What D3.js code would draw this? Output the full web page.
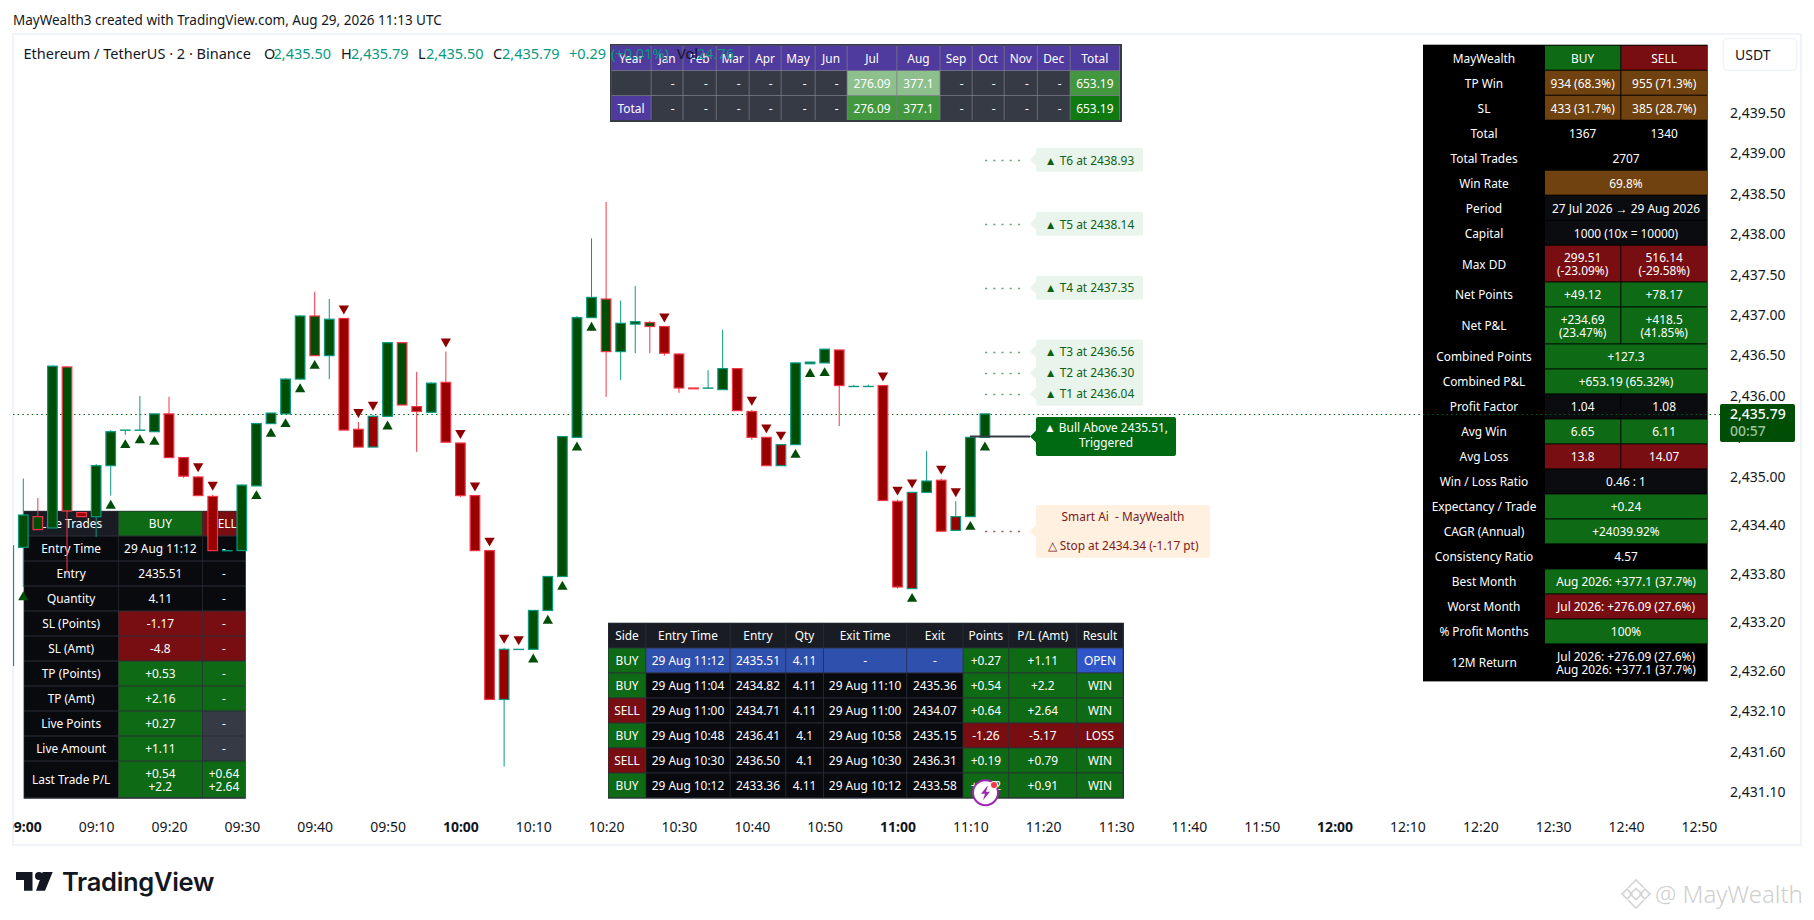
<!DOCTYPE html>
<html>
<head>
<meta charset="utf-8">
<title>ETHUSDT 2m</title>
<script src="https://cdn.jsdelivr.net/npm/d3@7/dist/d3.min.js"></script>
<style>
    html, body { margin: 0; padding: 0; background: #fff; }
    svg { display: block; font-family: "Noto Sans", sans-serif; }
    svg text { white-space: pre; }
    .tick text { fill: #131722; }
</style>
</head>
<body>
<div id="chart"></div>
<script>
// 2 minute bars, first one is 08:58 and sits half outside the pane
const opens = [2432.68, 2434.14, 2434.52, 2434.38, 2436.37, 2434.57, 2434.52, 2435.15, 2435.59, 2435.59, 2435.57, 2435.79, 2435.25, 2435.01, 2434.77, 2434.10, 2434.10,
    2434.90, 2435.67, 2435.79, 2436.22, 2437.00, 2436.51, 2436.97, 2435.60, 2435.38, 2435.76, 2436.67, 2435.88, 2435.81, 2436.18, 2435.43, 2434.78, 2434.10, 2432.26,
    2432.88, 2432.88, 2433.36, 2433.78, 2435.50, 2436.98, 2437.21, 2436.56, 2436.90, 2436.92, 2436.87, 2436.53, 2436.11, 2436.11, 2436.09, 2436.35, 2435.82, 2435.50,
    2435.15, 2435.41, 2436.41, 2436.42, 2436.58, 2436.13, 2436.13, 2436.14, 2434.71, 2433.63, 2434.82, 2434.97, 2434.35, 2434.52, 2435.50];
const highs = [2434.16, 2434.99, 2434.75, 2436.39, 2436.38, 2434.57, 2435.17, 2435.59, 2435.59, 2436.01, 2435.79, 2436.00, 2435.25, 2435.02, 2434.79, 2434.10, 2434.92,
    2435.67, 2435.80, 2436.23, 2437.01, 2437.30, 2437.21, 2436.97, 2435.69, 2435.78, 2436.67, 2436.67, 2436.31, 2436.18, 2436.56, 2435.43, 2434.78, 2434.10, 2432.90,
    2432.88, 2433.36, 2433.78, 2435.51, 2437.00, 2437.96, 2438.41, 2437.19, 2437.37, 2436.94, 2436.87, 2436.54, 2436.11, 2436.33, 2436.83, 2436.35, 2435.84, 2435.50,
    2435.41, 2436.42, 2436.43, 2436.59, 2436.58, 2436.15, 2436.15, 2436.14, 2434.73, 2434.82, 2435.33, 2434.99, 2434.71, 2435.50, 2435.79];
const lows = [2432.50, 2433.65, 2434.36, 2434.38, 2433.80, 2434.52, 2434.27, 2434.78, 2435.53, 2435.59, 2435.57, 2435.25, 2435.00, 2434.78, 2434.10, 2434.10, 2434.10,
    2434.90, 2435.67, 2435.79, 2436.22, 2436.51, 2436.22, 2435.59, 2435.38, 2435.38, 2435.76, 2435.90, 2435.32, 2435.81, 2435.44, 2434.76, 2434.10, 2432.26, 2431.43,
    2432.88, 2432.88, 2433.36, 2433.78, 2435.50, 2436.98, 2436.00, 2436.21, 2436.54, 2436.54, 2436.51, 2436.05, 2436.10, 2436.11, 2436.09, 2435.83, 2435.47, 2435.15,
    2435.15, 2435.41, 2436.41, 2436.42, 2435.64, 2436.13, 2436.13, 2434.72, 2433.63, 2433.63, 2434.82, 2434.34, 2434.35, 2434.52, 2435.50];
const closes = [2434.16, 2434.54, 2434.36, 2436.38, 2434.59, 2434.52, 2435.15, 2435.57, 2435.59, 2435.59, 2435.79, 2435.25, 2435.02, 2434.78, 2434.10, 2434.10, 2434.91,
    2435.67, 2435.80, 2436.22, 2437.00, 2436.51, 2436.96, 2435.59, 2435.38, 2435.76, 2436.67, 2435.90, 2435.82, 2436.17, 2435.44, 2434.78, 2434.10, 2432.26, 2432.88,
    2432.88, 2433.36, 2433.78, 2435.51, 2436.98, 2437.23, 2436.56, 2436.91, 2436.93, 2436.87, 2436.54, 2436.11, 2436.10, 2436.11, 2436.35, 2435.83, 2435.50, 2435.15,
    2435.41, 2436.42, 2436.43, 2436.59, 2436.14, 2436.13, 2436.13, 2434.72, 2433.65, 2434.82, 2434.96, 2434.34, 2434.52, 2435.50, 2435.79];
// fill follows the indicator's side, not the candle direction (B = buy, S = sell)
const sides = 'BBBBBSBBBBBSSSSBBBBBBBBSSSBBSBSSSSSSBBBBBBBBBSSSBBSSSSBBBSBBSSSBSSBB'.split('');
const buyMarks = [1, 7, 8, 9, 10, 17, 18, 19, 20, 21, 26, 36, 37, 38, 39, 40, 54, 55, 56, 62, 66, 67];
const sellMarks = [13, 14, 23, 24, 25, 30, 31, 32, 33, 34, 35, 45, 51, 52, 53, 60, 61, 62, 64, 65];

const priceTicks = [2439.5, 2439, 2438.5, 2438, 2437.5, 2437, 2436.5, 2436, 2435.5, 2435, 2434.4, 2433.8, 2433.2, 2432.6, 2432.1, 2431.6, 2431.1];
const lastPrice = 2435.79;
const entryPrice = 2435.51;
const stopPrice = 2434.34;
const targetNames = ['T6', 'T5', 'T4', 'T3', 'T2', 'T1'];
const targetPrices = [2438.93, 2438.14, 2437.35, 2436.56, 2436.30, 2436.04];

const monthHeaders = ['Year', 'Jan', 'Feb', 'Mar', 'Apr', 'May', 'Jun', 'Jul', 'Aug', 'Sep', 'Oct', 'Nov', 'Dec', 'Total'];
const monthRow = ['', '-', '-', '-', '-', '-', '-', '276.09', '377.1', '-', '-', '-', '-', '653.19'];
const monthTotals = ['Total', '-', '-', '-', '-', '-', '-', '276.09', '377.1', '-', '-', '-', '-', '653.19'];

const liveLabels = ['Live Trades', 'Entry Time', 'Entry', 'Quantity', 'SL (Points)', 'SL (Amt)', 'TP (Points)', 'TP (Amt)', 'Live Points', 'Live Amount', 'Last Trade P/L'];
const liveBuy = ['BUY', '29 Aug 11:12', '2435.51', '4.11', '-1.17', '-4.8', '+0.53', '+2.16', '+0.27', '+1.11', '+0.54\n+2.2'];
const liveSell = ['SELL', '-', '-', '-', '-', '-', '-', '-', '-', '-', '+0.64\n+2.64'];
const liveBuyTones = ['green', 'black', 'black', 'black', 'red', 'red', 'green', 'green', 'green', 'green', 'green'];
const liveSellTones = ['red', 'black', 'black', 'black', 'red', 'red', 'green', 'green', 'grey', 'grey', 'green'];

const tradeHeaders = ['Side', 'Entry Time', 'Entry', 'Qty', 'Exit Time', 'Exit', 'Points', 'P/L (Amt)', 'Result'];
const tradeRows = [
    ['BUY', '29 Aug 11:12', '2435.51', '4.11', '-', '-', '+0.27', '+1.11', 'OPEN'],
    ['BUY', '29 Aug 11:04', '2434.82', '4.11', '29 Aug 11:10', '2435.36', '+0.54', '+2.2', 'WIN'],
    ['SELL', '29 Aug 11:00', '2434.71', '4.11', '29 Aug 11:00', '2434.07', '+0.64', '+2.64', 'WIN'],
    ['BUY', '29 Aug 10:48', '2436.41', '4.1', '29 Aug 10:58', '2435.15', '-1.26', '-5.17', 'LOSS'],
    ['SELL', '29 Aug 10:30', '2436.50', '4.1', '29 Aug 10:30', '2436.31', '+0.19', '+0.79', 'WIN'],
    ['BUY', '29 Aug 10:12', '2433.36', '4.11', '29 Aug 10:12', '2433.58', '+0.22', '+0.91', 'WIN']
];

const statLabels = ['MayWealth', 'TP Win', 'SL', 'Total', 'Total Trades', 'Win Rate', 'Period', 'Capital', 'Max DD', 'Net Points', 'Net P&L', 'Combined Points', 'Combined P&L',
    'Profit Factor', 'Avg Win', 'Avg Loss', 'Win / Loss Ratio', 'Expectancy / Trade', 'CAGR (Annual)', 'Consistency Ratio', 'Best Month', 'Worst Month', '% Profit Months', '12M Return'];
// one entry = merged cell, two = buy and sell
const statValues = [['BUY', 'SELL'], ['934 (68.3%)', '955 (71.3%)'], ['433 (31.7%)', '385 (28.7%)'], ['1367', '1340'], ['2707'], ['69.8%'], ['27 Jul 2026 → 29 Aug 2026'], ['1000 (10x = 10000)'],
    ['299.51\n(-23.09%)', '516.14\n(-29.58%)'], ['+49.12', '+78.17'], ['+234.69\n(23.47%)', '+418.5\n(41.85%)'], ['+127.3'], ['+653.19 (65.32%)'], ['1.04', '1.08'], ['6.65', '6.11'], ['13.8', '14.07'],
    ['0.46 : 1'], ['+0.24'], ['+24039.92%'], ['4.57'], ['Aug 2026: +377.1 (37.7%)'], ['Jul 2026: +276.09 (27.6%)'], ['100%'], ['Jul 2026: +276.09 (27.6%)\nAug 2026: +377.1 (37.7%)']];
const statTones = ['mixed', 'brown', 'brown', 'none', 'none', 'brown', 'ink', 'ink', 'red', 'green', 'green', 'green', 'green', 'ink', 'green', 'red', 'ink', 'green', 'green', 'none', 'green', 'red', 'green', 'none'];

// ---- layout
const Width = 1814, Height = 920;
const Pane = { left: 13, top: 34, right: 1801, bottom: 845 };
const Colors = {
    wickUp: '#089981', wickDown: '#f23645', fillBuy: '#004d06', fillSell: '#990000',
    green: '#0e6a14', red: '#780e11', grey: '#363a45', black: '#090a0e', ink: '#0a0c10', none: '#000000',
    brown: '#70420f', purple: '#4f3a9e', head: '#1a1c24', blue: '#3050ae', open: '#2f55c8'
};
const FontSize = 11.9;

const svg = d3.select('#chart').append('svg').attr('width', Width).attr('height', Height);

const x = d3.scaleTime()
    .domain([new Date(Date.UTC(2026, 7, 29, 9, 0)), new Date(Date.UTC(2026, 7, 29, 12, 50))])
    .range([23.3, 1698.85]);
const y = d3.scaleLinear().domain([2440, 2431]).range([73.3, 801.4]);
const barTime = i => new Date(Date.UTC(2026, 7, 29, 8, 58 + i * 2));
const snap = v => Math.round(v) + 0.5;

svg.append('defs').append('clipPath').attr('id', 'pane')
    .append('rect').attr('x', Pane.left).attr('y', Pane.top)
    .attr('width', Pane.right - Pane.left).attr('height', Pane.bottom - Pane.top);

svg.append('text').attr('x', 13).attr('y', 25).attr('font-size', 13.5).attr('fill', '#131722')
    .text('MayWealth3 created with TradingView.com, Aug 29, 2026 11:13 UTC');

svg.append('rect').attr('x', Pane.left).attr('y', Pane.top)
    .attr('width', Pane.right - Pane.left).attr('height', Pane.bottom - Pane.top)
    .attr('fill', '#fff').attr('stroke', '#f0f3fa').attr('stroke-width', 2);

// cells: {x0, x1, y0, y1, text, fill, anchor}
function drawCells(group, cells, size) {
    const g = group.append('g');
    g.selectAll('rect').data(cells).join('rect')
        .attr('x', d => d.x0).attr('y', d => d.y0)
        .attr('width', d => d.x1 - d.x0).attr('height', d => d.y1 - d.y0)
        .attr('fill', d => d.fill);
    const labels = g.selectAll('text').data(cells).join('text')
        .attr('font-size', size || FontSize).attr('fill', '#fff')
        .attr('text-anchor', d => d.anchor === 'end' ? 'end' : 'middle');
    labels.each(function (d) {
        const lines = String(d.text).split('\n');
        const px = d.anchor === 'end' ? d.x1 - 8 : (d.x0 + d.x1) / 2;
        const lineH = 12.4;
        const top = (d.y0 + d.y1) / 2 - (lines.length - 1) * lineH / 2;
        d3.select(this).selectAll('tspan').data(lines).join('tspan')
            .attr('x', px).attr('y', (l, i) => top + i * lineH).attr('dy', '0.42em').text(l => l);
    });
    return g;
}

function edgesFrom(start, heights) {
    const edges = [start];
    heights.forEach(h => edges.push(edges[edges.length - 1] + h));
    return edges;
}

// ---- performance table, top right
const statX = [1423, 1545, 1621.3, 1707.7];
const statY = edgesFrom(45.7, statLabels.map(l => l === 'Max DD' ? 36.7 : (l === 'Net P&L' || l === '12M Return') ? 37 : 25));
svg.append('rect').attr('x', statX[0]).attr('y', statY[0] - 1).attr('width', statX[3] - statX[0]).attr('height', statY[statY.length - 1] - statY[0] + 1).attr('fill', '#000');
const statCells = [];
statLabels.forEach((label, r) => {
    const y0 = statY[r], y1 = statY[r + 1] - 1, vals = statValues[r], tone = statTones[r];
    statCells.push({ x0: statX[0], x1: statX[1], y0, y1, text: label, fill: Colors.none });
    if (vals.length === 1) {
        statCells.push({ x0: statX[1], x1: statX[3] - 0.7, y0, y1, text: vals[0], fill: Colors[tone] });
    } else {
        statCells.push({ x0: statX[1], x1: statX[2] - 1, y0, y1, text: vals[0], fill: tone === 'mixed' ? Colors.green : Colors[tone] });
        statCells.push({ x0: statX[2], x1: statX[3] - 0.7, y0, y1, text: vals[1], fill: tone === 'mixed' ? Colors.red : Colors[tone] });
    }
});
drawCells(svg, statCells);

// ---- monthly returns table
const monthX = [611.5, 651.5, 683.4, 716.6, 749.5, 781.5, 815.5, 847.5, 897.3, 940.4, 972.5, 1004.5, 1037.7, 1070.5, 1120];
const monthY = [45.7, 71, 96, 120];
svg.append('rect').attr('x', 610).attr('y', 44).attr('width', 512).attr('height', 78).attr('fill', '#363a45');
svg.append('rect').attr('x', monthX[0]).attr('y', monthY[0]).attr('width', monthX[14] - monthX[0]).attr('height', monthY[3] - monthY[0]).attr('fill', '#787b86');
const monthRows = [monthHeaders, monthRow, monthTotals];
const monthCells = [];
monthRows.forEach((row, r) => row.forEach((text, c) => {
    let fill = Colors.grey;
    if (r === 0 || (r === 2 && c === 0)) fill = Colors.purple;
    if (text !== '-' && r > 0 && c > 0) {
        if (c === 13) fill = r === 2 ? '#0f7a10' : '#43973f';
        else fill = r === 1 ? '#8dc08d' : '#43973f';
    }
    monthCells.push({
        x0: monthX[c], x1: monthX[c + 1] - 0.8, y0: monthY[r], y1: monthY[r + 1] - (r < 2 ? 0.8 : 0), text, fill,
        anchor: text === '-' ? 'end' : 'middle'
    });
}));
drawCells(svg, monthCells);

// ---- live trades table, sits under the candles
const liveX = [24.3, 118.7, 202.7, 245.3];
const liveY = edgesFrom(511.5, liveLabels.map((l, i) => i === liveLabels.length - 1 ? 36.8 : 25));
svg.append('rect').attr('x', liveX[0] - 0.7).attr('y', liveY[0] - 0.7).attr('width', liveX[3] - liveX[0] + 1.2).attr('height', liveY[11] - liveY[0] + 1.2).attr('fill', '#2a2e39');
const liveCells = [];
liveLabels.forEach((label, r) => {
    const y0 = liveY[r], y1 = liveY[r + 1] - 1;
    liveCells.push({ x0: liveX[0], x1: liveX[1] - 0.7, y0, y1, text: label, fill: r === 0 ? Colors.head : Colors.black });
    liveCells.push({ x0: liveX[1], x1: liveX[2] - 0.7, y0, y1, text: liveBuy[r], fill: Colors[liveBuyTones[r]] });
    liveCells.push({ x0: liveX[2], x1: liveX[3], y0, y1, text: liveSell[r], fill: Colors[liveSellTones[r]] });
});
drawCells(svg, liveCells);

// ---- recent trades table
const tradeX = [608.5, 646.3, 730.5, 786.2, 823.8, 907.2, 963.4, 1009.2, 1077.2, 1123.5];
const tradeY = d3.range(8).map(i => 623.4 + i * 25);
svg.append('rect').attr('x', tradeX[0] - 0.5).attr('y', tradeY[0] - 0.7).attr('width', tradeX[9] - tradeX[0] + 1).attr('height', 176).attr('fill', '#2a2e39');
const tradeCells = [];
tradeHeaders.forEach((text, c) => tradeCells.push({ x0: tradeX[c], x1: tradeX[c + 1] - 0.8, y0: tradeY[0], y1: tradeY[1] - 1, text, fill: Colors.head }));
tradeRows.forEach((row, r) => row.forEach((text, c) => {
    let fill = Colors.black;
    if (c === 0) fill = text === 'BUY' ? Colors.green : Colors.red;
    if (row[8] === 'OPEN' && c > 0 && c < 6) fill = Colors.blue;
    if (c >= 6) fill = row[8] === 'LOSS' ? Colors.red : Colors.green;
    if (text === 'OPEN') fill = Colors.open;
    tradeCells.push({ x0: tradeX[c], x1: tradeX[c + 1] - 0.8, y0: tradeY[r + 1], y1: tradeY[r + 2] - 1, text, fill });
}));
drawCells(svg, tradeCells);

// ---- last price line
const pane = svg.append('g').attr('clip-path', 'url(#pane)');
pane.append('line').attr('x1', Pane.left).attr('x2', 1720).attr('y1', snap(y(lastPrice))).attr('y2', snap(y(lastPrice)))
    .attr('stroke', '#00610f').attr('stroke-width', 1.2).attr('stroke-dasharray', '1.5 3.2');

// ---- candles
const bars = opens.map((o, i) => ({ i, o, h: highs[i], l: lows[i], c: closes[i], side: sides[i] }));
const candle = pane.selectAll('g.bar').data(bars).join('g').attr('class', 'bar')
    .attr('transform', d => `translate(${x(barTime(d.i))},0)`);
const edgeColor = d => d.c >= d.o ? Colors.wickUp : Colors.wickDown;
candle.append('line')
    .attr('y1', d => y(d.h)).attr('y2', d => y(d.l))
    .attr('stroke', edgeColor).attr('stroke-width', 1);
candle.append('rect')
    .attr('x', -4.8).attr('width', 9.6)
    .attr('y', d => y(Math.max(d.o, d.c)))
    .attr('height', d => Math.max(Math.abs(y(d.o) - y(d.c)), 0.2))
    .attr('fill', d => d.side === 'B' ? Colors.fillBuy : Colors.fillSell)
    .attr('stroke', edgeColor).attr('stroke-width', 1.2);

// ---- signal triangles
const tri = d3.symbol().type(d3.symbolTriangle).size(46);
pane.selectAll('path.buy').data(buyMarks).join('path').attr('class', 'buy')
    .attr('d', tri).attr('fill', Colors.fillBuy)
    .attr('transform', i => `translate(${x(barTime(i))},${y(lows[i]) + 10.2})`);
pane.selectAll('path.sell').data(sellMarks).join('path').attr('class', 'sell')
    .attr('d', tri).attr('fill', '#8f0000')
    .attr('transform', i => `translate(${x(barTime(i))},${y(highs[i]) - 10}) rotate(180)`);

// ---- target / entry / stop callouts
const LabelX = 1036, TipX = 1030;
function callout(x1, y0, y1, fill) {
    const mid = (y0 + y1) / 2, r = 2;
    return `M${LabelX + r},${y0} H${x1 - r} Q${x1},${y0} ${x1},${y0 + r} V${y1 - r} Q${x1},${y1} ${x1 - r},${y1} H${LabelX + r} Q${LabelX},${y1} ${LabelX},${y1 - r} V${mid + 6} L${TipX},${mid} L${LabelX},${mid - 6} V${y0 + r} Q${LabelX},${y0} ${LabelX + r},${y0} Z`;
}
const callouts = svg.append('g');
function dots(price, color) {
    callouts.append('line').attr('x1', 985).attr('x2', 1026).attr('y1', snap(y(price))).attr('y2', snap(y(price)))
        .attr('stroke', color).attr('stroke-width', 1.6).attr('stroke-dasharray', '2.2 6');
}
targetPrices.forEach(p => {
    dots(p, '#6aa878');
    callouts.append('path').attr('d', callout(1143, y(p) - 12, y(p) + 12)).attr('fill', '#e9f5ec');
});
targetPrices.forEach((p, i) => {
    callouts.append('text').attr('x', 1089.5).attr('y', y(p)).attr('dy', '0.4em').attr('text-anchor', 'middle')
        .attr('font-size', FontSize).attr('fill', '#0f5f14').text(`▲ ${targetNames[i]} at ${p.toFixed(2)}`);
});
callouts.append('line').attr('x1', 970).attr('x2', 1030).attr('y1', y(entryPrice)).attr('y2', y(entryPrice))
    .attr('stroke', '#363a45').attr('stroke-width', 2);
callouts.append('path').attr('d', callout(1176, 417, 456)).attr('fill', '#006a13');
callouts.append('text').attr('x', 1106).attr('y', 427.7).attr('dy', '0.4em').attr('text-anchor', 'middle')
    .attr('font-size', FontSize).attr('fill', '#fff').text(`▲ Bull Above ${entryPrice},`);
callouts.append('text').attr('x', 1106).attr('y', 442).attr('dy', '0.4em').attr('text-anchor', 'middle')
    .attr('font-size', FontSize).attr('fill', '#fff').text('Triggered');
dots(stopPrice, '#a85a5a');
callouts.append('path').attr('d', callout(1210, 505, 557.7)).attr('fill', '#fff0e0');
callouts.append('text').attr('x', 1123).attr('y', 516).attr('dy', '0.4em').attr('text-anchor', 'middle')
    .attr('font-size', FontSize).attr('fill', '#7a1a1a').text('Smart Ai  - MayWealth');
callouts.append('text').attr('x', 1123).attr('y', 545).attr('dy', '0.4em').attr('text-anchor', 'middle')
    .attr('font-size', FontSize).attr('fill', '#7a1a1a').text(`△ Stop at ${stopPrice} (-1.17 pt)`);

// ---- alert badge on the trades table
const badge = svg.append('g').attr('transform', 'translate(985.5,792.7)');
badge.append('circle').attr('r', 12.5).attr('fill', '#fff').attr('stroke', '#9c27b0').attr('stroke-width', 2);
badge.append('path').attr('d', 'M2.5,-7.5 L-4.5,1 H-0.5 L-2.5,7.5 L4.5,-1 H0.5 Z').attr('fill', '#9c27b0');
badge.append('circle').attr('cx', 8.5).attr('cy', -7.7).attr('r', 3.6).attr('fill', '#f23645').attr('stroke', '#fff');

// ---- axes
const timeTicks = d3.range(0, 24).map(i => new Date(Date.UTC(2026, 7, 29, 9, i * 10)));
const timeAxis = d3.axisBottom(x).tickValues(timeTicks).tickSize(0).tickPadding(0).tickFormat(d3.utcFormat('%H:%M'));
const timeG = svg.append('g').attr('clip-path', 'url(#pane)').append('g').attr('transform', 'translate(0,822)').call(timeAxis);
timeG.select('.domain').remove();
timeG.selectAll('text').attr('font-size', 14).attr('font-family', '"Noto Sans", sans-serif')
    .attr('font-weight', d => d.getUTCMinutes() === 0 ? 700 : 400);

const priceAxis = d3.axisRight(y).tickValues(priceTicks).tickSize(0).tickPadding(0).tickFormat(d3.format(',.2f'));
const priceG = svg.append('g').attr('transform', 'translate(1730,-1)').call(priceAxis);
priceG.select('.domain').remove();
priceG.selectAll('text').attr('font-size', 14).attr('font-family', '"Noto Sans", sans-serif');

svg.append('rect').attr('x', 1723.5).attr('y', 38.5).attr('width', 73).attr('height', 32).attr('rx', 4)
    .attr('fill', '#fff').attr('stroke', '#f0f3fa').attr('stroke-width', 1.5);
svg.append('text').attr('x', 1735).attr('y', 55).attr('dy', '0.36em').attr('font-size', 14).attr('fill', '#131722').text('USDT');

svg.append('rect').attr('x', 1720).attr('y', 404).attr('width', 75).attr('height', 38).attr('rx', 2).attr('fill', '#004d06');
svg.append('text').attr('x', 1730).attr('y', 414).attr('dy', '0.36em').attr('font-size', 14).attr('font-weight', 500).attr('fill', '#fff').text(d3.format(',.2f')(lastPrice));
svg.append('text').attr('x', 1730).attr('y', 431).attr('dy', '0.36em').attr('font-size', 14).attr('font-weight', 500).attr('fill', '#9cc49c').text('00:57');

// ---- legend goes over the month table
const legendParts = [
    [23.5, 'Ethereum / TetherUS · 2 · Binance', '#131722'],
    [264, 'O', '#131722'], [273.5, '2,435.50', '#089981'],
    [341, 'H', '#131722'], [351, '2,435.79', '#089981'],
    [418, 'L', '#131722'], [426, '2,435.50', '#089981'],
    [493, 'C', '#131722'], [502, '2,435.79', '#089981'],
    [569, '+0.29', '#089981'], [611, '(+0.01%)', '#089981'],
    [677, 'Vol', '#131722'], [697, '24.76', '#089981']
];
svg.append('g').selectAll('text').data(legendParts).join('text')
    .attr('x', d => d[0]).attr('y', 54).attr('dy', '0.36em').attr('font-size', 14.5)
    .attr('fill', d => d[2]).text(d => d[1]);

// ---- branding
const logo = svg.append('g').attr('fill', '#131722');
logo.append('path').attr('d', 'M16,872 H32.5 V890.7 H24 V880 H16 Z');
logo.append('circle').attr('cx', 39).attr('cy', 876).attr('r', 4);
logo.append('path').attr('d', 'M42.7,872 H52.7 L45,890.7 H36 Z');
logo.append('text').attr('x', 62).attr('y', 891).attr('font-family', 'Inter, sans-serif')
    .attr('font-weight', 600).attr('font-size', 25.5).attr('letter-spacing', -0.3).text('TradingView');

const mark = svg.append('g').attr('transform', 'translate(1636,894)')
    .attr('fill', 'none').attr('stroke', '#d4d4d4').attr('stroke-width', 1.6);
[[0, 0, 4], [-9, 0, 3.5], [9, 0, 3.5]].forEach(m => mark.append('rect')
    .attr('x', -m[2]).attr('y', -m[2]).attr('width', m[2] * 2).attr('height', m[2] * 2)
    .attr('transform', `translate(${m[0]},${m[1]}) rotate(45)`));
mark.append('path').attr('d', 'M-8,-6 L0,-14 L8,-6 M-8,6 L0,14 L8,6');
svg.append('text').attr('x', 1655).attr('y', 903).attr('font-size', 24).attr('font-weight', 300)
    .attr('fill', '#cfcfcf').text('@ MayWealth');
</script>
</body>
</html>
